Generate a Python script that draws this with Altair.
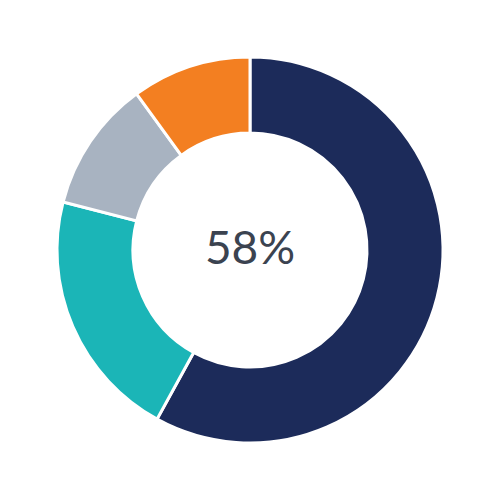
import altair as alt
import pandas as pd

categories = ["A", "B", "C", "D"]
values = [58, 21, 11, 10]
colors = ["#1c2b5a", "#1bb5b7", "#a8b3c1", "#f37f21"]
center_label = "58%"

df = pd.DataFrame({"cat": categories, "value": values, "order": list(range(len(values)))})

arc = alt.Chart(df).mark_arc(outerRadius=193, innerRadius=117, stroke="white", strokeWidth=3).encode(
    theta=alt.Theta("value:Q", stack=True),
    order=alt.Order("order:Q"),
    color=alt.Color("cat:N", scale=alt.Scale(domain=categories, range=colors), legend=None),
)

text = alt.Chart(pd.DataFrame({"t": [center_label]})).mark_text(
    font="Lato", fontSize=46, color="#3b4350", baseline="middle", align="center"
).encode(text="t:N")

chart = alt.layer(arc, text).properties(width=484, height=484, padding=0).configure_view(stroke=None)
chart.save("out.html", embed_options={"renderer": "svg", "actions": False})
